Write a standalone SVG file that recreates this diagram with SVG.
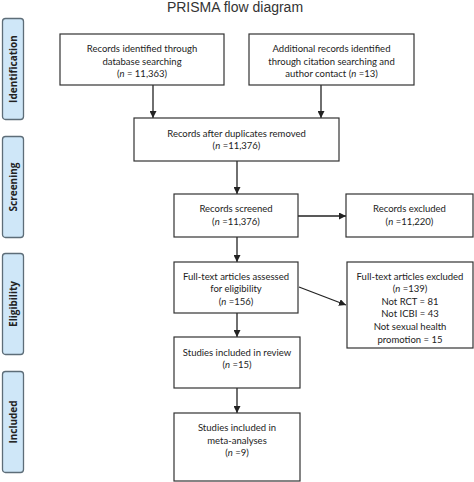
<svg xmlns="http://www.w3.org/2000/svg" width="474" height="482" viewBox="0 0 474 482">
<defs>
<marker id="ah" viewBox="0 0 10 10" refX="10" refY="5" markerWidth="7" markerHeight="7" markerUnits="userSpaceOnUse" orient="auto">
<path d="M0,0 L10,5 L0,10 z" fill="#222"/>
</marker>
<style>
.box{fill:#fff;stroke:#333;stroke-width:1.2}
.side{fill:#cfe7f8;stroke:#5d6d78;stroke-width:1.3}
.t{font-family:Lato,"Liberation Sans",sans-serif;font-size:9.5px;fill:#222;text-anchor:middle}
.s{font-family:"Open Sans","Liberation Sans",sans-serif;font-size:10px;font-weight:bold;fill:#222;text-anchor:middle}
.title{font-family:"Liberation Sans",Arial,sans-serif;font-size:14px;fill:#333;text-anchor:middle}
.c{stroke:#222;stroke-width:1.3;fill:none;marker-end:url(#ah)}
</style>
</defs>
<rect width="474" height="482" fill="#fff"/>
<text class="title" x="235" y="12">PRISMA flow diagram</text>

<g id="stage-identification"><rect class="side" x="2.5" y="18.5" width="21" height="101" rx="3"/><text class="s" transform="translate(16.5,69) rotate(-90)">Identification</text></g>
<g id="stage-screening"><rect class="side" x="2.5" y="136.5" width="21" height="101" rx="3"/><text class="s" transform="translate(16.5,187) rotate(-90)">Screening</text></g>
<g id="stage-eligibility"><rect class="side" x="2.5" y="253.5" width="21" height="101" rx="3"/><text class="s" transform="translate(16.5,304) rotate(-90)">Eligibility</text></g>
<g id="stage-included"><rect class="side" x="2.5" y="371.5" width="21" height="101" rx="3"/><text class="s" transform="translate(16.5,422) rotate(-90)">Included</text></g>

<g id="connectors">
<line class="c" x1="153" y1="85" x2="153" y2="118"/>
<line class="c" x1="321" y1="85" x2="321" y2="118"/>
<line class="c" x1="237" y1="161" x2="237" y2="194"/>
<line class="c" x1="298" y1="216" x2="346" y2="216"/>
<line class="c" x1="237" y1="237" x2="237" y2="262"/>
<line class="c" x1="299" y1="287" x2="346" y2="305"/>
<line class="c" x1="237" y1="313" x2="237" y2="337"/>
<line class="c" x1="237" y1="388" x2="237" y2="413"/>
</g>

<g id="n-database"><rect class="box" x="60" y="34" width="164" height="51"/>
<text class="t" x="142" y="52">Records identified through</text>
<text class="t" x="142" y="65">database searching</text>
<text class="t" x="142" y="77">(<tspan font-style="italic">n</tspan> =  11,363)</text></g>

<g id="n-additional"><rect class="box" x="249" y="34" width="165" height="51"/>
<text class="t" x="331.5" y="52">Additional records identified</text>
<text class="t" x="331.5" y="65">through citation searching and</text>
<text class="t" x="331.5" y="77">author contact (<tspan font-style="italic">n</tspan> =13)</text></g>

<g id="n-duplicates"><rect class="box" x="134" y="118" width="205" height="43"/>
<text class="t" x="236.5" y="137">Records after duplicates removed</text>
<text class="t" x="236.5" y="149">(<tspan font-style="italic">n</tspan> =11,376)</text></g>

<g id="n-screened"><rect class="box" x="174" y="194" width="124" height="43"/>
<text class="t" x="236" y="212">Records screened</text>
<text class="t" x="236" y="225">(<tspan font-style="italic">n</tspan> =11,376)</text></g>

<g id="n-excluded"><rect class="box" x="346" y="194" width="127" height="43"/>
<text class="t" x="409.5" y="212">Records excluded</text>
<text class="t" x="409.5" y="225">(<tspan font-style="italic">n</tspan> =11,220)</text></g>

<g id="n-fulltext"><rect class="box" x="174" y="262" width="124" height="51"/>
<text class="t" x="236" y="280">Full-text articles assessed</text>
<text class="t" x="236" y="292">for eligibility</text>
<text class="t" x="236" y="305">(<tspan font-style="italic">n</tspan> =156)</text></g>

<g id="n-ftexcluded"><rect class="box" x="347" y="262" width="126" height="86"/>
<text class="t" x="410" y="280">Full-text articles excluded</text>
<text class="t" x="410" y="292">(<tspan font-style="italic">n</tspan> =139)</text>
<text class="t" x="410" y="305">Not RCT = 81</text>
<text class="t" x="410" y="317">Not ICBI = 43</text>
<text class="t" x="410" y="330">Not sexual health</text>
<text class="t" x="410" y="343">promotion = 15</text></g>

<g id="n-review"><rect class="box" x="174" y="337" width="126" height="51"/>
<text class="t" x="237" y="356">Studies included in review</text>
<text class="t" x="237" y="368">(<tspan font-style="italic">n</tspan> =15)</text></g>

<g id="n-meta"><rect class="box" x="174" y="413" width="126" height="68"/>
<text class="t" x="237" y="431">Studies included in</text>
<text class="t" x="237" y="444">meta-analyses</text>
<text class="t" x="237" y="456">(<tspan font-style="italic">n</tspan> =9)</text></g>
</svg>
